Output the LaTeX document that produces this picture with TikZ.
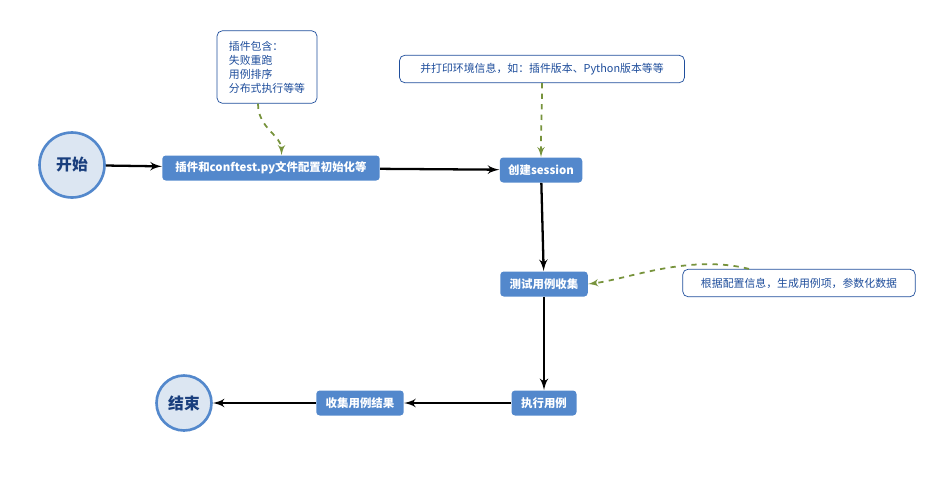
\documentclass[tikz,border=0pt]{standalone}
\usepackage{fontspec}
\setmainfont{Noto Sans CJK SC}
\usetikzlibrary{positioning,shapes,arrows}
\definecolor{boxblue}{HTML}{5388CC}
\definecolor{circfill}{HTML}{DCE6F2}
\definecolor{notegreen}{HTML}{77933C}
\definecolor{notetext}{HTML}{1F4E9C}
\begin{document}
\begin{tikzpicture}[x=0.02cm,y=-0.02cm]
	\tikzset{step style/.style={rectangle, rounded corners=2pt, fill=boxblue, text=white, font=\fontsize{6.5}{8}\selectfont\bfseries, minimum height=0.5cm, inner xsep=3pt},
	end style/.style={circle, draw=boxblue, line width=1.5pt, fill=circfill, text=notetext!80!black, font=\fontsize{9}{10}\selectfont\bfseries},
	note style/.style={rectangle, rounded corners=3pt, draw=notetext, fill=white, text=notetext, font=\fontsize{6.2}{8}\selectfont, align=left},
	flow/.style={-latex', line width=1.3pt},
	hint/.style={-latex', dashed, line width=1pt, draw=notegreen}}
	\useasboundingbox (0,0) rectangle (939,491);
	\node[end style, minimum size=1.3cm] (start) at (72,165) {开始};
	\node[step style, minimum width=4.35cm] (init) at (271,168) {插件和conftest.py文件配置初始化等};
	\node[step style, minimum width=1.65cm] (session) at (541,170) {创建session};
	\node[step style, minimum width=1.75cm] (collect) at (544,284) {测试用例收集};
	\node[step style, minimum width=1.3cm] (run) at (544,403) {执行用例};
	\node[step style, minimum width=1.75cm] (result) at (360,403) {收集用例结果};
	\node[end style, minimum size=1.1cm] (stop) at (184,403) {结束};
	\node[note style, minimum width=2cm, minimum height=1.45cm] (plugins) at (267,67) {插件包含：\\失败重跑\\用例排序\\分布式执行等等};
	\node[note style, minimum width=5.7cm, minimum height=0.55cm] (envinfo) at (542,69) {并打印环境信息，如：插件版本、Python版本等等};
	\node[note style, minimum width=4.65cm, minimum height=0.55cm] (gen) at (799,283) {根据配置信息，生成用例项，参数化数据};
	\draw[flow] (start) -- (init);
	\draw[flow] (init) -- (session);
	\draw[flow] (session) -- (collect);
	\draw[flow] (collect) -- (run);
	\draw[flow] (run) -- (result);
	\draw[flow] (result) -- (stop);
	\draw[hint] (plugins.south) ++(-9,0) .. controls +(0,25) and +(0,-20) .. ([xshift=6pt]init.north);
	\draw[hint] (envinfo.south) .. controls +(0,30) and +(0,-40) .. (session.north);
	\draw[hint] ([xshift=-1cm]gen.north) .. controls +(-60,-15) and +(40,-5) .. (collect.east);
\end{tikzpicture}
\end{document}
